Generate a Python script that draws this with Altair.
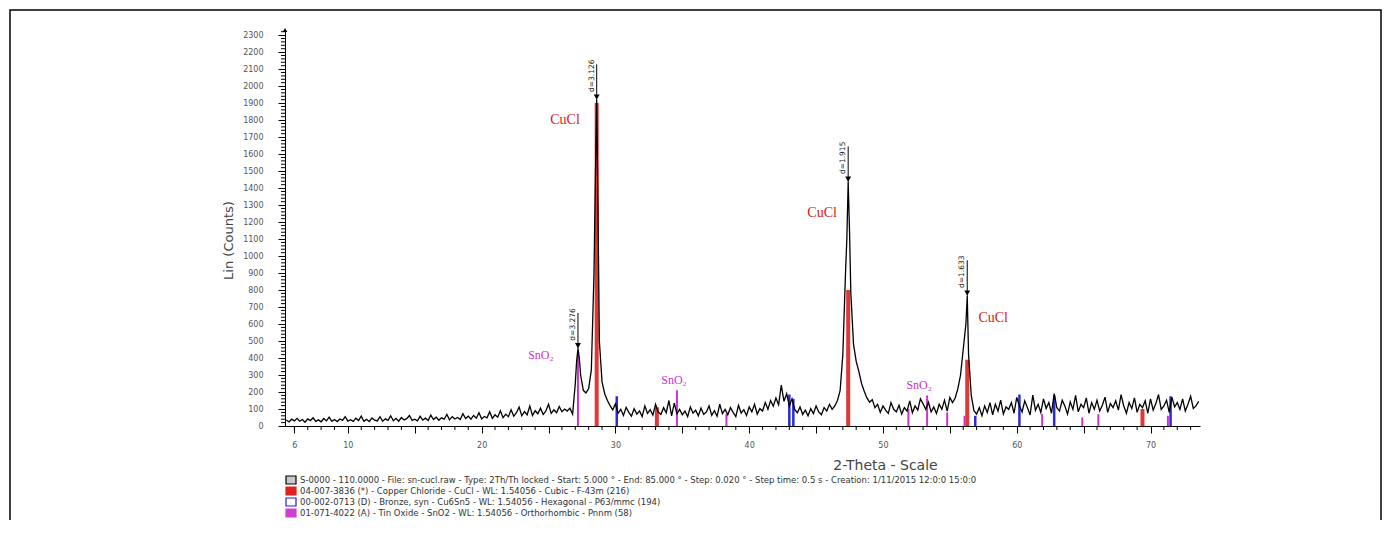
import altair as alt
import pandas as pd

# ---------------- data ----------------
# measured pattern: counts sampled every 0.2 deg starting at 5.4 deg 2-theta
THETA_START = 5.4
THETA_STEP = 0.2
counts = [
    35, 24, 40, 30, 45,      # 5.4
    28, 38, 22, 42, 32,      # 6.4
    48, 27, 36, 25, 44,      # 7.4
    30, 52, 28, 38, 26,      # 8.4
    41, 33, 55, 29, 37,      # 9.4
    27, 46, 32, 58, 28,      # 10.4
    39, 26, 47, 34, 30,      # 11.4
    55, 28, 42, 33, 60,      # 12.4
    31, 45, 28, 50, 36,      # 13.4
    43, 62, 33, 40, 30,      # 14.4
    57, 35, 46, 32, 64,      # 15.4
    38, 52, 34, 48, 40,      # 16.4
    68, 36, 55, 41, 50,      # 17.4
    38, 72, 44, 58, 40,      # 18.4
    62, 46, 78, 42, 56,      # 19.4
    48, 84, 45, 66, 52,      # 20.4
    90, 49, 70, 55, 95,      # 21.4
    57, 78, 112, 60, 85,     # 22.4
    66, 118, 62, 90, 72,     # 23.4
    105, 68, 88, 128, 74,    # 24.4
    95, 78, 115, 84, 100,    # 25.4
    88, 105, 70, 250, 455,   # 26.4
    300, 210, 195, 220, 330, # 27.4
    900, 1918, 500, 260, 190,# 28.4
    150, 120, 95, 130, 75,   # 29.4
    98, 62, 110, 80, 58,     # 30.4
    102, 70, 88, 55, 118,    # 31.4
    74, 96, 64, 128, 82,     # 32.4
    68, 108, 78, 150, 60,    # 33.4
    135, 72, 98, 66, 88,     # 34.4
    55, 112, 76, 93, 60,     # 35.4
    105, 68, 83, 118, 63,    # 36.4
    90, 57, 128, 73, 98,     # 37.4
    66, 108, 80, 55, 122,    # 38.4
    76, 96, 62, 112, 83,     # 39.4
    128, 70, 102, 88, 138,   # 40.4
    98, 150, 116, 165, 125,  # 41.4
    240, 145, 190, 118, 160, # 42.4
    98, 78, 112, 68, 93,     # 43.4
    60, 102, 73, 118, 83,    # 44.4
    66, 108, 88, 128, 98,    # 45.4
    118, 150, 210, 420, 900, # 46.4
    1435, 780, 480, 380, 320,# 47.4
    250, 205, 165, 140, 155, # 48.4
    108, 128, 80, 118, 93,   # 49.4
    74, 138, 98, 83, 122,    # 50.4
    70, 108, 88, 148, 78,    # 51.4
    118, 93, 160, 130, 98,   # 52.4
    140, 83, 112, 73, 128,   # 53.4
    98, 152, 88, 168, 138,   # 54.4
    165, 220, 300, 450, 600, # 55.4
    420, 180, 90, 70, 108,   # 56.4
    60, 118, 80, 138, 65,    # 57.4
    128, 88, 152, 70, 112,   # 58.4
    98, 138, 75, 168, 118,   # 59.4
    83, 148, 108, 65, 182,   # 60.4
    93, 128, 80, 160, 103,   # 61.4
    138, 75, 190, 108, 88,   # 62.4
    152, 118, 70, 142, 98,   # 63.4
    180, 83, 128, 108, 165,  # 64.4
    75, 138, 98, 152, 88,    # 65.4
    122, 170, 80, 132, 108,  # 66.4
    148, 93, 185, 118, 75,   # 67.4
    138, 103, 165, 80, 128,  # 68.4
    108, 148, 75, 160, 93,   # 69.4
    132, 185, 98, 118, 152,  # 70.4
    80, 170, 112, 138, 98,   # 71.4
    160, 88, 128, 175, 103,  # 72.4
    118, 145,                # 73.4
]
# extra points read around the sharp peak tops
peak_extra_theta = [27.1, 27.3, 28.5, 28.7, 47.3, 47.5, 56.3]
peak_extra_counts = [380, 400, 1450, 1250, 1100, 1150, 765]

# peak markers (d-spacing labels)
mark_theta = [27.2, 28.6, 47.4, 56.3]
mark_counts = [455, 1918, 1435, 765]
mark_labels = ["d=3.276", "d=3.126", "d=1.915", "d=1.633"]

# reference stick patterns
cucl_theta = [28.6, 33.1, 47.4, 56.3, 69.4]
cucl_height = [1900, 110, 800, 390, 100]
cusn_theta = [30.1, 43.0, 43.3, 56.9, 60.2, 62.8, 71.5]
cusn_height = [175, 185, 160, 60, 185, 180, 175]
sno2_theta = [27.2, 34.6, 38.3, 51.9, 53.3, 54.8, 56.1, 61.9, 64.9, 66.1, 71.3]
sno2_height = [420, 210, 70, 100, 180, 80, 60, 70, 50, 70, 60]

# phase annotations
sno2_ann_theta = [24.43, 34.38, 52.71]
sno2_ann_count = [418, 270, 241]
cucl_ann_theta = [26.23, 45.45, 58.24]
cucl_ann_count = [1800, 1253, 635]

x_tick_values = [6, 10, 15, 20, 25, 30, 35, 40, 45, 50, 55, 60, 65, 70]
y_tick_values = list(range(0, 2301, 100))

legend_lines = [
    "S-0000 - 110.0000 - File: sn-cucl.raw - Type: 2Th/Th locked - Start: 5.000 \u00b0 - End: 85.000 \u00b0 - Step: 0.020 \u00b0 - Step time: 0.5 s - Creation: 1/11/2015 12:0:0 15:0:0",
    "04-007-3836 (*) - Copper Chloride - CuCl - WL: 1.54056 - Cubic - F-43m (216)",
    "00-002-0713 (D) - Bronze, syn - Cu6Sn5 - WL: 1.54056 - Hexagonal - P63/mmc (194)",
    "01-071-4022 (A) - Tin Oxide - SnO2 - WL: 1.54056 - Orthorhombic - Pnnm (58)",
]
legend_fill = ["#c8c8c8", "#e02020", "#ffffff", "#d040d0"]
legend_stroke = ["#000000", "#e02020", "#2020d0", "#d040d0"]

# ---------------- tables ----------------
grid_theta = [round(THETA_START + THETA_STEP * i, 2) for i in range(len(counts))]
pattern = pd.DataFrame({
    "theta": grid_theta + peak_extra_theta,
    "count": counts + peak_extra_counts,
}).sort_values("theta")

marks_df = pd.DataFrame({"theta": mark_theta, "count": mark_counts, "label": mark_labels})
marks_df["top"] = marks_df["count"] + 210


def sticks(th, h):
    return pd.DataFrame({"theta": th, "count": h, "base": [0] * len(th)})


FONT = "DejaVu Sans"
xs = alt.Scale(domain=[5.3, 73.7], nice=False, zero=False)
ys = alt.Scale(domain=[0, 2330], nice=False, zero=True)

x_axis = alt.Axis(
    values=x_tick_values,
    labelExpr="(datum.value % 10 == 0 || datum.value == 6) ? datum.label : ''",
    tickSize=7, tickColor="black", domainColor="black", domainWidth=1,
    labelFont=FONT, labelFontSize=8, labelColor="#555", labelPadding=8,
    grid=False, title="2-Theta - Scale", titleFont=FONT, titleFontSize=14,
    titleFontWeight="normal", titleColor="#444", titleX=600, titleY=39,
    titleBaseline="middle", titleAlign="center",
)
y_axis = alt.Axis(
    values=y_tick_values, format="d",
    tickSize=7, tickColor="black", domainColor="black", domainWidth=1,
    labelFont=FONT, labelFontSize=8, labelColor="#555", labelPadding=15,
    grid=False, title="Lin (Counts)", titleFont=FONT, titleFontSize=13,
    titleFontWeight="normal", titleColor="#444", titleX=-57, titleY=210,
    titleAngle=270, titleAlign="center", titleBaseline="middle",
)


def X(f="theta"):
    return alt.X(f"{f}:Q", scale=xs, axis=x_axis)


def Y(f="count"):
    return alt.Y(f"{f}:Q", scale=ys, axis=y_axis)


layers = []

# minor ticks
y_minor = pd.DataFrame({"count": [v for v in range(20, 2330, 20) if v % 100 != 0]})
layers.append(alt.Chart(y_minor).mark_rule(color="black", strokeWidth=1).encode(
    y=Y(), x=alt.value(-4), x2=alt.value(0)))
x_minor = pd.DataFrame({"theta": [v for v in range(6, 74) if v % 5 != 0]})
layers.append(alt.Chart(x_minor).mark_rule(color="black", strokeWidth=1).encode(
    x=X(), y=alt.value(396), y2=alt.value(400)))

# reference sticks
layers.append(alt.Chart(sticks(cucl_theta, cucl_height)).mark_rule(
    color="#e02020", strokeWidth=4, opacity=0.9).encode(x=X(), y=Y(), y2="base:Q"))
layers.append(alt.Chart(sticks(sno2_theta, sno2_height)).mark_rule(
    color="#cc33cc", strokeWidth=2).encode(x=X(), y=Y(), y2="base:Q"))
layers.append(alt.Chart(sticks(cusn_theta, cusn_height)).mark_rule(
    color="#2a2ad8", strokeWidth=2.5).encode(x=X(), y=Y(), y2="base:Q"))

# measured pattern
layers.append(alt.Chart(pattern).mark_line(color="black", strokeWidth=1.3).encode(
    x=X(), y=Y()))

# peak markers + d labels
layers.append(alt.Chart(marks_df).mark_rule(color="black", strokeWidth=1).encode(
    x=X(), y=Y(), y2="top:Q"))
layers.append(alt.Chart(marks_df).mark_point(
    shape="triangle-down", filled=True, size=35, color="black", opacity=1, yOffset=-3).encode(
    x=X(), y=Y()))
layers.append(alt.Chart(marks_df).mark_text(
    angle=270, align="left", baseline="bottom", dx=8, dy=-1,
    font=FONT, fontSize=7.5, color="#222").encode(x=X(), y=Y(), text="label:N"))

# phase annotations
sno2_ann = pd.DataFrame({"theta": sno2_ann_theta, "count": sno2_ann_count,
                         "t": ["SnO\u2082"] * 3})
cucl_ann = pd.DataFrame({"theta": cucl_ann_theta, "count": cucl_ann_count,
                         "t": ["CuCl"] * 3})
layers.append(alt.Chart(sno2_ann).mark_text(
    font="Liberation Serif", fontSize=12, color="#cc33cc").encode(
    x=X(), y=Y(), text="t:N"))
layers.append(alt.Chart(cucl_ann).mark_text(
    font="Liberation Serif", fontSize=14, color="#d42020").encode(
    x=X(), y=Y(), text="t:N"))

# arrow at top of y axis
one = pd.DataFrame({"k": [0]})
layers.append(alt.Chart(one).mark_point(
    shape="triangle-up", filled=True, size=22, color="black", opacity=1).encode(
    x=alt.value(0), y=alt.value(0)))

# legend lines under the axis
for i, (txt, fcol, scol) in enumerate(zip(legend_lines, legend_fill, legend_stroke)):
    ypos = 450 + 11 * i
    layers.append(alt.Chart(one).mark_rect(
        fill=fcol, stroke=scol, strokeWidth=1.2).encode(
        x=alt.value(1), x2=alt.value(11), y=alt.value(ypos - 4), y2=alt.value(ypos + 4)))
    layers.append(alt.Chart(pd.DataFrame({"t": [txt]})).mark_text(
        align="left", baseline="middle", font=FONT, fontSize=8.5, color="#333").encode(
        x=alt.value(15), y=alt.value(ypos), text="t:N"))

# outer frame
layers.append(alt.Chart(one).mark_rect(
    fillOpacity=0, stroke="black", strokeWidth=1.5).encode(
    x=alt.value(-275), x2=alt.value(1096), y=alt.value(-20), y2=alt.value(520)))

chart = alt.layer(*layers).properties(
    width=915, height=396,
    autosize=alt.AutoSizeParams(type="none"),
    padding={"left": 277, "top": 22, "right": 182, "bottom": 94},
    background="white",
).configure_view(strokeWidth=0)

chart.save("out.html", embed_options={"renderer": "svg", "actions": False})
